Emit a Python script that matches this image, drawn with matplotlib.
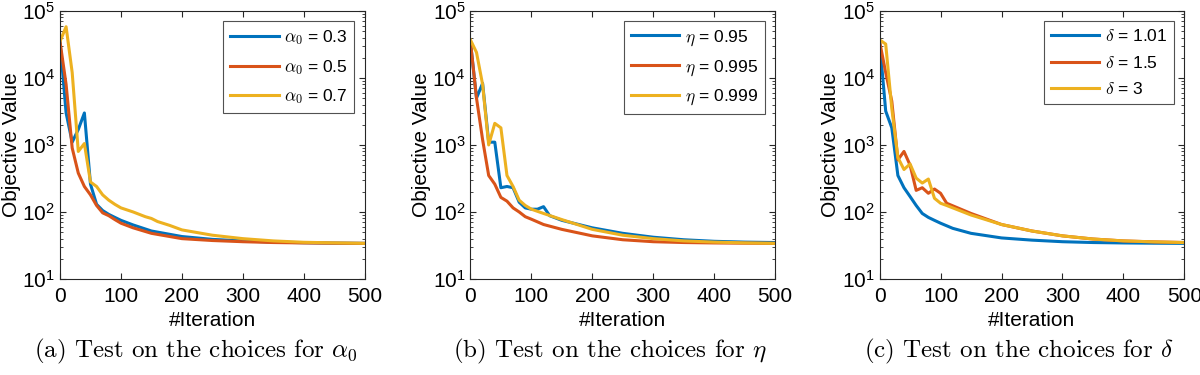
import numpy as np
import matplotlib.pyplot as plt
from matplotlib.ticker import LogLocator, NullFormatter

# (a) alpha_0
a_labels = [r"$\alpha_0$ = 0.3", r"$\alpha_0$ = 0.5", r"$\alpha_0$ = 0.7"]
a1_x = [0, 10, 20, 30, 40, 50, 60, 70, 80, 90, 100, 120, 150, 200, 250, 300, 350, 400, 450, 500]
a1_y = [35000, 3000, 1100, 1700, 3000, 260, 130, 105, 92, 83, 75, 64, 52, 43, 39, 37, 35.5, 34.8, 34.3, 34]
a2_x = [0, 10, 20, 30, 40, 50, 60, 70, 80, 90, 100, 120, 150, 200, 250, 300, 350, 400, 450, 500]
a2_y = [35000, 8000, 900, 380, 240, 180, 125, 97, 88, 77, 68, 58, 48, 40, 37.5, 36, 35, 34.5, 34.2, 34]
a3_x = [0, 10, 20, 30, 40, 50, 60, 70, 80, 90, 100, 120, 140, 150, 160, 180, 200, 250, 300, 350, 400, 450, 500]
a3_y = [35000, 58000, 12000, 800, 1050, 280, 240, 180, 150, 130, 115, 100, 85, 80, 72, 63, 54, 45, 40, 37, 35.3, 34.6, 34]

# (b) eta
b_labels = [r"$\eta$ = 0.95", r"$\eta$ = 0.995", r"$\eta$ = 0.999"]
b1_x = [0, 10, 20, 30, 40, 50, 60, 70, 80, 90, 100, 110, 120, 130, 150, 200, 250, 300, 350, 400, 450, 500]
b1_y = [35000, 5000, 8300, 1100, 1100, 230, 240, 230, 140, 115, 110, 110, 120, 88, 75, 58, 48, 42, 38.5, 36.5, 35.5, 35]
b2_x = [0, 10, 20, 30, 40, 50, 60, 70, 80, 90, 100, 120, 150, 200, 250, 300, 350, 400, 450, 500]
b2_y = [35000, 5000, 1200, 350, 260, 165, 145, 115, 100, 85, 78, 65, 55, 44, 38.5, 36, 35, 34.5, 34.2, 34]
b3_x = [0, 10, 20, 30, 40, 50, 60, 70, 80, 90, 100, 120, 150, 200, 250, 300, 350, 400, 450, 500]
b3_y = [37000, 24000, 8000, 1000, 2100, 1800, 350, 240, 150, 125, 110, 95, 77, 55, 45, 40, 37, 35.5, 34.6, 34]

# (c) delta
c_labels = [r"$\delta$ = 1.01", r"$\delta$ = 1.5", r"$\delta$ = 3"]
c1_x = [0, 10, 20, 30, 40, 50, 60, 70, 80, 90, 100, 120, 150, 200, 250, 300, 350, 400, 450, 500]
c1_y = [35000, 3200, 1800, 350, 230, 170, 125, 95, 83, 75, 68, 57, 48, 41, 38, 36, 35, 34.5, 34.2, 34]
c2_x = [0, 10, 20, 30, 40, 50, 60, 70, 80, 90, 100, 110, 150, 200, 250, 300, 350, 400, 450, 500]
c2_y = [35000, 12000, 4500, 600, 800, 500, 210, 230, 190, 220, 190, 135, 95, 65, 52, 44, 39.5, 37, 35.8, 35]
c3_x = [0, 10, 20, 30, 40, 50, 60, 70, 80, 90, 100, 110, 150, 200, 250, 300, 350, 400, 450, 500]
c3_y = [37000, 32000, 3500, 650, 430, 520, 320, 270, 310, 160, 135, 125, 90, 65, 52, 44, 39.5, 37, 35.8, 35]

captions = [r"(a) Test on the choices for $\alpha_0$",
            r"(b) Test on the choices for $\eta$",
            r"(c) Test on the choices for $\delta$"]

# MATLAB default line colours
colors = ["#0072BD", "#D95319", "#EDB120"]

plt.rcParams['font.family'] = ['Liberation Sans', 'DejaVu Sans']
plt.rcParams['mathtext.fontset'] = 'cm'
plt.rcParams['axes.unicode_minus'] = False

fig = plt.figure(figsize=(12, 3.75), dpi=100)

lefts = [0.050, 0.392, 0.733]
caption_x = [0.163, 0.508, 0.849]
panels = [
    ([(a1_x, a1_y), (a2_x, a2_y), (a3_x, a3_y)], a_labels),
    ([(b1_x, b1_y), (b2_x, b2_y), (b3_x, b3_y)], b_labels),
    ([(c1_x, c1_y), (c2_x, c2_y), (c3_x, c3_y)], c_labels),
]

for i, (series, labels) in enumerate(panels):
    ax = fig.add_axes([lefts[i], 0.256, 0.254, 0.715])
    for (x, y), lab, c in zip(series, labels, colors):
        ax.plot(x, y, color=c, lw=2.2, label=lab)
    ax.set_yscale('log')
    ax.set_ylim(10, 1e5)
    ax.set_xlim(0, 500)
    ax.set_xticks([0, 100, 200, 300, 400, 500])
    ax.yaxis.set_major_locator(LogLocator(base=10, numticks=10))
    ax.yaxis.set_minor_locator(LogLocator(base=10, subs=np.arange(2, 10), numticks=10))
    ax.yaxis.set_minor_formatter(NullFormatter())
    ax.tick_params(which='both', direction='in', top=True, right=True,
                   labelsize=15, colors='#262626', labelcolor='black')
    ax.tick_params(which='major', length=4)
    ax.tick_params(which='minor', length=2)
    ax.tick_params(axis='x', pad=6)
    for s in ax.spines.values():
        s.set_color('#262626')
        s.set_linewidth(0.8)
    ax.set_xlabel("#Iteration", fontsize=15, labelpad=3)
    ax.set_ylabel("Objective Value", fontsize=15, labelpad=1)
    leg = ax.legend(loc='upper right', fontsize=12.5, frameon=True, fancybox=False,
                    edgecolor='#262626', handlelength=2.8, handletextpad=0.3,
                    borderpad=0.4, labelspacing=0.6, borderaxespad=0.6)
    leg.get_frame().set_linewidth(0.8)
    fig.text(caption_x[i], 0.062, captions[i], ha='center', va='center',
             fontsize=18, family='cmr10', math_fontfamily='cm')

fig.savefig("out.png", dpi=100)
